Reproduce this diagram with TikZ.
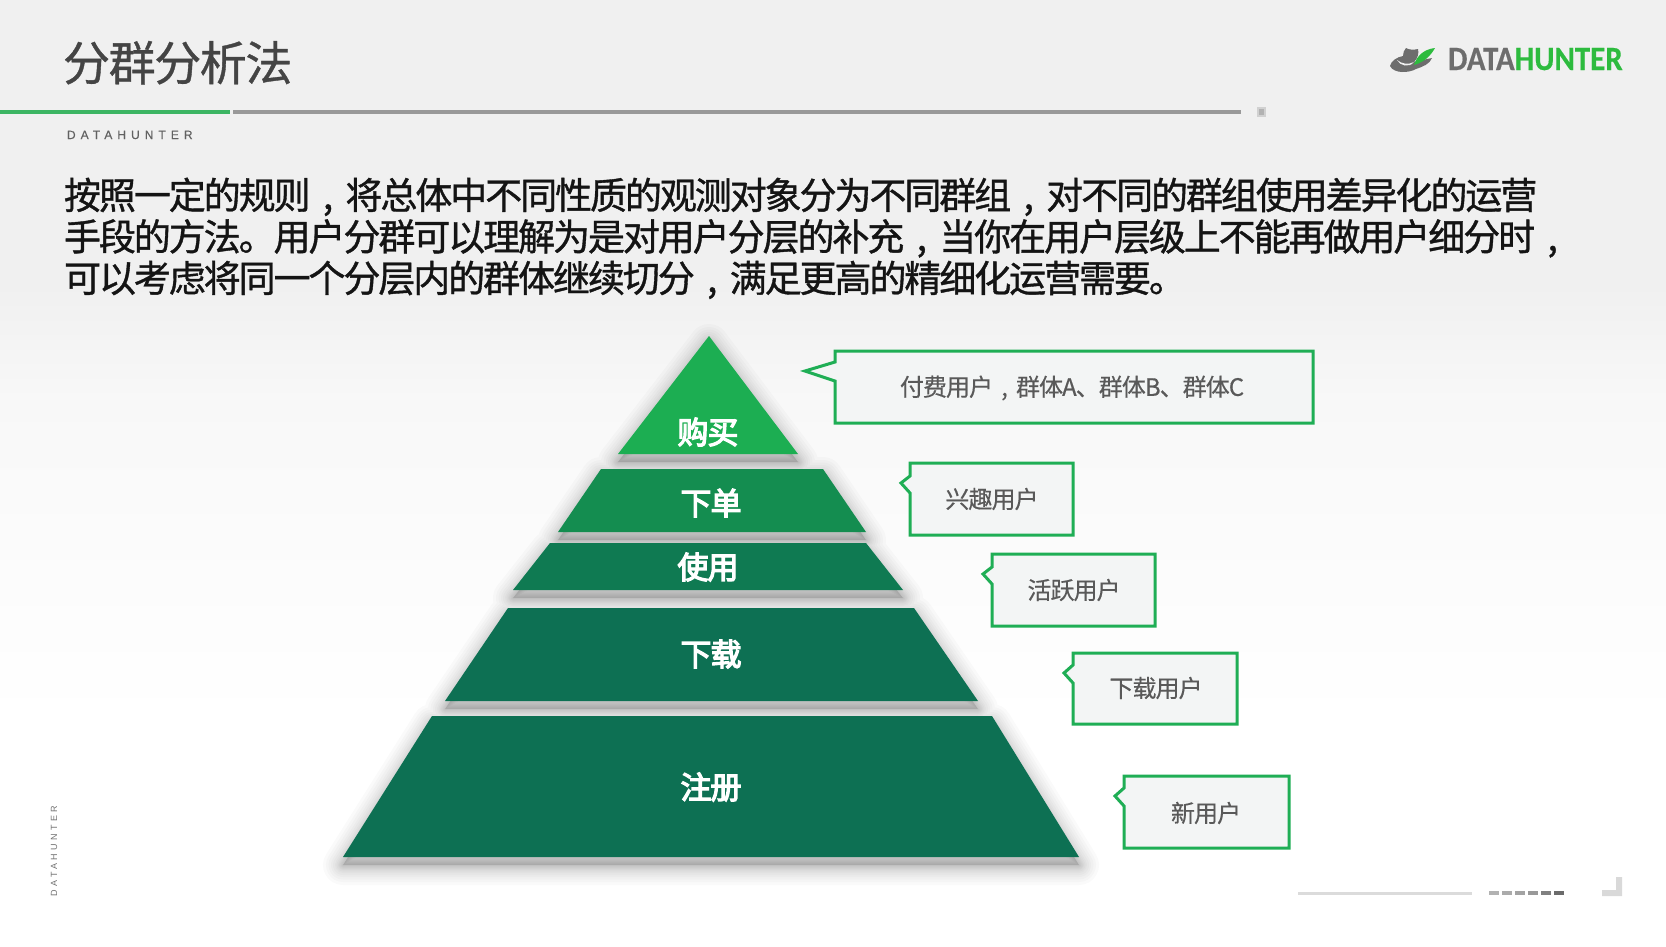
\documentclass[tikz,border=0pt]{standalone}
\usepackage{fontspec}
\usepackage{graphicx}
\setmainfont{Noto Sans CJK SC}
\newfontfamily\latinsans[LetterSpace=42,FakeBold=0.2]{Liberation Sans}
\newfontfamily\latinsanstight[LetterSpace=37]{Liberation Sans}
\newfontfamily\logofont[FakeBold=0.4]{Carlito Bold}
\newfontfamily\bodyfont[LetterSpace=-5.6,FakeBold=1]{Noto Sans CJK SC}
\newfontfamily\titlefont[LetterSpace=-3,FakeBold=0.8]{Noto Sans CJK SC}
\newfontfamily\layerfont[LetterSpace=-3,FakeBold=4]{Noto Sans CJK SC}
\newfontfamily\calloutfont[LetterSpace=-4,FakeBold=0.4]{Noto Sans CJK SC}
\definecolor{bgtop}{HTML}{F0F0F0}
\definecolor{bgmid}{HTML}{F8F8F8}
\definecolor{titlegray}{HTML}{444444}
\definecolor{rulegreen}{HTML}{3CB563}
\definecolor{rulegray}{HTML}{999999}
\definecolor{boxgreen}{HTML}{1FAE55}
\definecolor{boxfill}{HTML}{F3F5F5}
\definecolor{boxtext}{HTML}{595959}
\definecolor{layerA}{HTML}{1CAE52}
\definecolor{layerB}{HTML}{148D50}
\definecolor{layerC}{HTML}{0F7A52}
\definecolor{layerD}{HTML}{0D7053}
\definecolor{logogray}{HTML}{6D6D6D}
\definecolor{logogreen}{HTML}{2DBB3E}
\newcommand{\fsz}[1]{\fontsize{#1}{#1}\selectfont}
\newcommand{\bc}{\makebox[35pt][c]{,}}
\newcommand{\layerpaths}{
    (709,336) -- (798,454) -- (618,454) -- cycle
    (601,469) -- (823,469) -- (866,532) -- (558,532) -- cycle
    (550,543) -- (866,543) -- (903,590) -- (513,590) -- cycle
    (508,608) -- (914,608) -- (978,701) -- (445,701) -- cycle
    (432,716) -- (992,716) -- (1079,857) -- (343,857) -- cycle}
\tikzset{
  x=1pt,y=-1pt,
  txt/.style={inner sep=0pt,outer sep=0pt},
  bodyline/.style={txt,anchor=base west,text=black!92,font=\bodyfont\fsz{37}},
  layerlabel/.style={txt,text=white,font=\layerfont\fsz{31}},
  calloutlabel/.style={txt,text=boxtext,font=\calloutfont\fsz{24}},
  callout/.style={draw=boxgreen,fill=boxfill,line width=3pt,line join=miter},
}
\begin{document}
\begin{tikzpicture}
\useasboundingbox (0,0) rectangle (1666,946);
% background
\fill[bgtop] (0,0) rectangle (1666,285);
\shade[top color=bgtop,bottom color=bgmid] (0,284) rectangle (1666,400);
\shade[top color=bgmid,bottom color=white] (0,399) rectangle (1666,720);
\fill[white] (0,719) rectangle (1666,946);
% header
\node[txt,anchor=base west,text=titlegray,font=\titlefont\fsz{47}] (title) at (63,80.5) {分群分析法};
\fill[rulegreen] (0,110) rectangle (230,114);
\fill[rulegray] (233,110) rectangle (1241,114);
\fill[black!18] (1257,107) rectangle (1266,117);
\fill[black!30] (1259,109) rectangle (1264,115);
\node[txt,anchor=base west,text=black!62,font=\latinsans\fsz{12}] (sub) at (67,139) {DATAHUNTER};
% logo
\path[fill=logogray] (1390,66) .. controls (1391,61) and (1397,57) .. (1403,56) .. controls (1403,53) and (1404,50) .. (1406,48) .. controls (1409,50) and (1414,50) .. (1418,49) .. controls (1419,53) and (1418,58) .. (1414,62) .. controls (1420,61) and (1426,59) .. (1432,58) .. controls (1430,64) and (1422,67) .. (1416,69) .. controls (1409,73) and (1394,74) .. (1390,66) -- cycle;
\path[fill=bgtop] (1397,60) .. controls (1402,64) and (1408,65) .. (1414,62) .. controls (1409,68) and (1400,66) .. (1397,60) -- cycle;
\path[fill=logogreen] (1414,65) .. controls (1417,55) and (1425,49) .. (1435,48) .. controls (1431,55) and (1425,62) .. (1414,65) -- cycle;
\node[txt,anchor=base west,font=\logofont\fsz{34}] (logo) at (1448,70) {\scalebox{.91}[1]{\textcolor{logogray}{DATA}\textcolor{logogreen}{HUNTER}}};
% body text
\node[bodyline] (l1) at (64,209) {按照一定的规则\bc 将总体中不同性质的观测对象分为不同群组\bc 对不同的群组使用差异化的运营};
\node[bodyline] (l2) at (64,250.5) {手段的方法。用户分群可以理解为是对用户分层的补充\bc 当你在用户层级上不能再做用户细分时\bc};
\node[bodyline] (l3) at (64,292) {可以考虑将同一个分层内的群体继续切分\bc 满足更高的精细化运营需要。};
% pyramid shadow: one path per pass, so overlapping layers do not darken twice
\path[fill=black,opacity=.13,shift={(0,8)}] \layerpaths;
\foreach \w in {2,4,6,8,10,13,16,20,24,29,34,40}{
  \path[draw=black,opacity=.019,line width=\w pt,line join=round,shift={(0,8)}] \layerpaths;
}
% pyramid
\fill[layerA] (709,336) -- (798,454) -- (618,454) -- cycle;
\fill[layerB] (601,469) -- (823,469) -- (866,532) -- (558,532) -- cycle;
\fill[layerC] (550,543) -- (866,543) -- (903,590) -- (513,590) -- cycle;
\fill[layerD] (508,608) -- (914,608) -- (978,701) -- (445,701) -- cycle;
\fill[layerD] (432,716) -- (992,716) -- (1079,857) -- (343,857) -- cycle;
\node[layerlabel] (buy) at (708,432) {购买};
\node[layerlabel] (order) at (711,503) {下单};
\node[layerlabel] (use) at (708,567) {使用};
\node[layerlabel] (down) at (711,654) {下载};
\node[layerlabel] (reg) at (711,787) {注册};
% callouts
\path[callout] (835,351) -- (1313,351) -- (1313,423) -- (835,423) -- (835,381) -- (805,371) -- (835,362) -- cycle;
\path[callout] (910,463) -- (1073,463) -- (1073,535) -- (910,535) -- (910,493) -- (901,483) -- (910,476) -- cycle;
\path[callout] (992,554) -- (1155,554) -- (1155,626) -- (992,626) -- (992,584) -- (983,574) -- (992,567) -- cycle;
\path[callout] (1073,653) -- (1237,653) -- (1237,724) -- (1073,724) -- (1073,683) -- (1064,673) -- (1073,665) -- cycle;
\path[callout] (1124,776) -- (1289,776) -- (1289,848) -- (1124,848) -- (1124,806) -- (1115,796) -- (1124,788) -- cycle;
\node[calloutlabel] (c1) at (1072,388) {付费用户\makebox[23pt][c]{,}群体A、群体B、群体C};
\node[calloutlabel] (c2) at (992,499) {兴趣用户};
\node[calloutlabel] (c3) at (1074,590) {活跃用户};
\node[calloutlabel] (c4) at (1156,688) {下载用户};
\node[calloutlabel] (c5) at (1206,813) {新用户};
% footer marks
\node[txt,rotate=90,text=black!55,font=\latinsanstight\fsz{9}] (side) at (54,851) {DATAHUNTER};
\fill[black!14] (1298,891.5) rectangle (1472,894.5);
\fill[black!30] (1489,891) rectangle (1499,895);
\fill[black!33] (1502,891) rectangle (1512,895);
\fill[black!36] (1515,891) rectangle (1525,895);
\fill[black!40] (1528,891) rectangle (1538,895);
\fill[black!50] (1541,891) rectangle (1551,895);
\fill[black!58] (1554,891) rectangle (1564,895);
\fill[black!15] (1616,877) -- (1622,877) -- (1622,896) -- (1602,896) -- (1602,890) -- (1616,890) -- cycle;
\end{tikzpicture}
\end{document}
